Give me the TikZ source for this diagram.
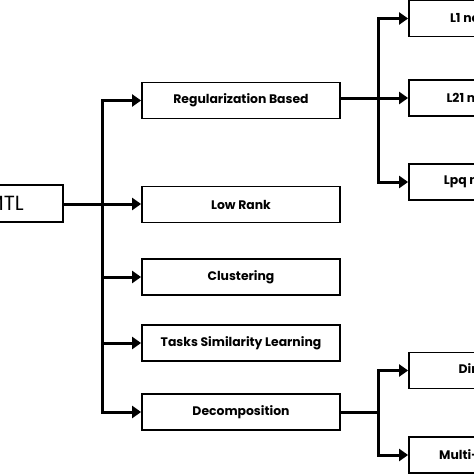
\documentclass[tikz,border=0pt]{standalone}
\usepackage{fontspec}
\setmainfont{Poppins}
\usetikzlibrary{arrows.meta,positioning}
\tikzset{
  basic/.style  = {draw, line width=1.8pt, rectangle, inner sep=0pt, font=\bfseries\fontsize{12.4}{14}\selectfont},
  root/.style   = {basic, minimum width=116pt, minimum height=37pt, font=\fontsize{20.5}{22}\selectfont},
  branch/.style = {basic, minimum width=198pt, minimum height=36pt},
  leaf/.style   = {basic, minimum width=130pt, minimum height=36pt},
  link/.style   = {line width=3pt},
  arr/.style    = {link, -{Triangle[length=9pt,width=12pt]}}
}

\begin{document}
\begin{tikzpicture}[x=1pt,y=-1pt]
\useasboundingbox (0,0) rectangle (474,474);
% root
\node[root] (mtl) at (5,203.5) {MTL};
% first level
\node[branch] (reg)   at (241,100.5) {Regularization Based};
\node[branch] (rank)  at (241,204.5) {Low Rank};
\node[branch] (clust) at (241,277)   {Clustering};
\node[branch] (sim)   at (241,343)   {Tasks Similarity Learning};
\node[branch] (dec)   at (241,412)   {Decomposition};
% second level
\node[leaf] (l1)   at (474,18.5)  {L1 norm};
\node[leaf] (l21)  at (474,98)    {L21 norm};
\node[leaf] (lpq)  at (474,182)   {Lpq norm};
\node[leaf] (dirty) at (474,370.5) {Dirty};
\node[leaf] (multi) at (474,455)  {Multi-level};
% junctions
\coordinate (j1) at (102,204);
\coordinate (j2) at (378,98);
\coordinate (j3) at (378,412);
% connectors
\draw[arr] (mtl.east |- j1) -- (rank.west |- j1);
\draw[arr] (j1) |- (reg.west);
\draw[arr] (j1) |- (clust.west);
\draw[arr] (j1) |- (sim.west);
\draw[arr] (j1) |- (dec.west);
\draw[arr] (reg.east |- j2) -- (l21.west);
\draw[arr] (j2) |- (l1.west);
\draw[arr] (j2) |- (lpq.west);
\draw[link] (dec.east) -- (j3);
\draw[arr] (j3) |- (dirty.west);
\draw[arr] (j3) |- (multi.west);
\end{tikzpicture}
\end{document}
